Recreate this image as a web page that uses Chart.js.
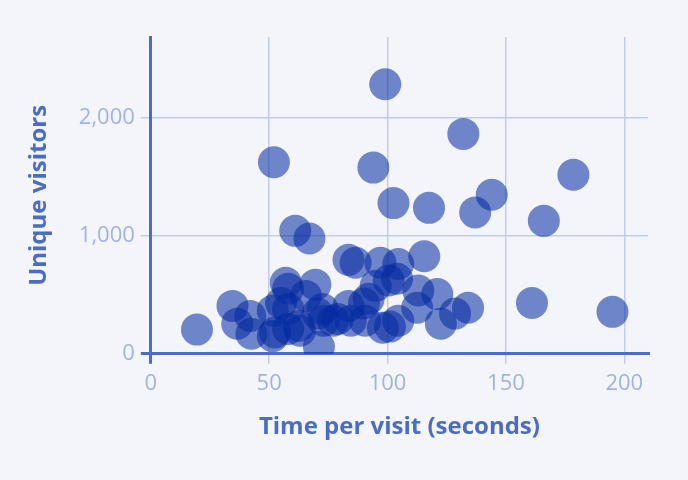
<!DOCTYPE html>
<html>
<head>
<meta charset="utf-8">
<script src="https://cdn.jsdelivr.net/npm/chart.js@4/dist/chart.umd.min.js"></script>
<style>
  html, body { margin: 0; padding: 0; background: #f4f5fb; }
  #wrap { width: 688px; height: 480px; }
</style>
</head>
<body>
<div id="wrap"><canvas id="chart"></canvas></div>
<script>
// Tiempo por visita (segundos)
const timePerVisit = [
  99, 132, 52, 94, 178.5, 144, 102.5, 117.5, 137, 166, 61, 67, 161, 195, 19.5, 115.5,
  83.5, 86.5, 97, 104.5, 100.5, 104, 113, 121, 134, 128.5, 122.5, 104.5, 101, 98,
  90.5, 92, 84.5, 83.5, 77, 70.5, 72.5, 79, 71, 57, 58, 69.5, 65.5, 55, 51.5, 58,
  73, 52.5, 58, 62.5, 51.5, 34.5, 36.5, 42, 42.5, 63, 112.5, 95, 90
];
// Visitantes únicos
const uniqueVisitors = [
  2280, 1860, 1620, 1575, 1515, 1345, 1275, 1235, 1195, 1125, 1040, 975, 430, 355, 205, 825,
  795, 770, 770, 760, 620, 635, 535, 505, 390, 340, 255, 280, 230, 220,
  280, 465, 280, 405, 280, 340, 380, 295, 60, 600, 550, 585, 490, 430, 365, 380,
  280, 180, 210, 235, 150, 405, 255, 320, 170, 195, 390, 575, 425
];
const xTicks = [0, 50, 100, 150, 200];
const yTicks = [0, 1000, 2000];

const axisColor = '#4a6cc4';
const gridColor = '#bfcdea';
const tickColor = '#a0b3e0';
const fontFamily = '"Open Sans", sans-serif';

const points = timePerVisit.map((x, i) => ({ x: x, y: uniqueVisitors[i] }));

const ctx = document.getElementById('chart');
new Chart(ctx, {
  type: 'scatter',
  data: {
    datasets: [{
      label: 'Visits',
      data: points,
      backgroundColor: 'rgba(0, 40, 160, 0.55)',
      borderWidth: 0,
      pointRadius: 16,
      pointHoverRadius: 16
    }]
  },
  options: {
    responsive: true,
    maintainAspectRatio: false,
    animation: false,
    events: [],
    layout: { padding: { left: 21, right: 40, top: 37, bottom: 34 } },
    plugins: { legend: { display: false }, tooltip: { enabled: false } },
    scales: {
      x: {
        type: 'linear',
        min: 0,
        max: 210,
        afterBuildTicks: (axis) => { axis.ticks = xTicks.map(v => ({ value: v })); },
        border: { display: true, color: axisColor, width: 3 },
        grid: {
          color: (c) => c.tick && c.tick.value === 0 ? axisColor : gridColor,
          lineWidth: (c) => c.tick && c.tick.value === 0 ? 3 : 1.5,
          tickLength: 10
        },
        ticks: {
          color: tickColor,
          padding: 7,
          font: { family: fontFamily, size: 22 }
        },
        title: {
          display: true,
          text: 'Time per visit (seconds)',
          color: axisColor,
          padding: { top: 9 },
          font: { family: fontFamily, size: 24, weight: 'bold' }
        }
      },
      y: {
        type: 'linear',
        min: 0,
        max: 2680,
        afterBuildTicks: (axis) => { axis.ticks = yTicks.map(v => ({ value: v })); },
        border: { display: true, color: axisColor, width: 3 },
        grid: {
          color: (c) => c.tick && c.tick.value === 0 ? axisColor : gridColor,
          lineWidth: (c) => c.tick && c.tick.value === 0 ? 3 : 1.5,
          tickLength: 10
        },
        ticks: {
          color: tickColor,
          padding: 6,
          font: { family: fontFamily, size: 22 },
          callback: (v) => v.toLocaleString('en-US')
        },
        title: {
          display: true,
          text: 'Unique visitors',
          color: axisColor,
          padding: { bottom: 19 },
          font: { family: fontFamily, size: 24, weight: 'bold' }
        }
      }
    }
  }
});
</script>
</body>
</html>
